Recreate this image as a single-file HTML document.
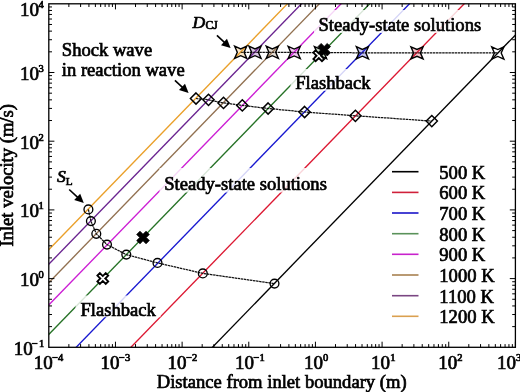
<!DOCTYPE html><html><head><meta charset="utf-8"><style>html,body{margin:0;padding:0;background:#fff;}svg{display:block;}text{font-family:"Liberation Serif", "Times New Roman", serif;fill:#000;stroke:#000;stroke-width:0.70px;}</style></head><body>
<svg width="520" height="392" viewBox="0 0 520 392">
<rect width="520" height="392" fill="#fff"/>
<defs><clipPath id="ax"><rect x="48.80" y="3.80" width="466.60" height="343.50"/></clipPath></defs>
<g clip-path="url(#ax)" fill="none" stroke-width="1.35">
<line x1="40.00" y1="524.98" x2="530.00" y2="19.98" stroke="#000000"/>
<line x1="40.00" y1="440.98" x2="530.00" y2="-64.02" stroke="#dc1832"/>
<line x1="40.00" y1="384.58" x2="530.00" y2="-120.42" stroke="#1818d0"/>
<line x1="40.00" y1="343.58" x2="530.00" y2="-161.42" stroke="#267226"/>
<line x1="40.00" y1="314.08" x2="530.00" y2="-190.92" stroke="#cc1ed4"/>
<line x1="40.00" y1="291.68" x2="530.00" y2="-213.32" stroke="#917050"/>
<line x1="40.00" y1="273.28" x2="530.00" y2="-231.72" stroke="#6a2490"/>
<line x1="40.00" y1="258.78" x2="530.00" y2="-246.22" stroke="#eaa02a"/>
</g>
<rect x="314.0" y="10.0" width="173.0" height="23.0" fill="#fff" fill-opacity="0.82"/>
<rect x="159.5" y="168.0" width="173.0" height="24.5" fill="#fff" fill-opacity="0.82"/>
<rect x="290.5" y="69.0" width="85.0" height="21.8" fill="#fff" fill-opacity="0.82"/>
<rect x="75.5" y="295.5" width="85.0" height="21.7" fill="#fff" fill-opacity="0.82"/>
<polyline points="88.4,209.4 90.9,221.1 96.3,233.8 107.0,244.6 126.3,254.6 157.5,262.9 202.8,273.4 274.5,283.6" fill="none" stroke="#111" stroke-width="1.25" stroke-dasharray="2.5 0.6"/>
<polyline points="196.0,98.5 208.5,99.8 223.5,102.9 242.3,105.4 268.1,108.5 304.6,112.0 355.4,115.8 431.8,121.1" fill="none" stroke="#111" stroke-width="1.25" stroke-dasharray="2.5 0.6"/>
<polyline points="240.7,52.3 255.0,52.3 272.3,52.3 294.2,52.5 320.5,52.6 362.4,52.8 417.0,52.9 497.8,53.0" fill="none" stroke="#111" stroke-width="1.25" stroke-dasharray="2.5 0.6"/>
<circle cx="88.4" cy="209.4" r="4.4" fill="none" stroke="#000" stroke-width="1.35"/>
<circle cx="90.9" cy="221.1" r="4.4" fill="none" stroke="#000" stroke-width="1.35"/>
<circle cx="96.3" cy="233.8" r="4.4" fill="none" stroke="#000" stroke-width="1.35"/>
<circle cx="107.0" cy="244.6" r="4.4" fill="none" stroke="#000" stroke-width="1.35"/>
<circle cx="126.3" cy="254.6" r="4.4" fill="none" stroke="#000" stroke-width="1.35"/>
<circle cx="157.5" cy="262.9" r="4.4" fill="none" stroke="#000" stroke-width="1.35"/>
<circle cx="202.8" cy="273.4" r="4.4" fill="none" stroke="#000" stroke-width="1.35"/>
<circle cx="274.5" cy="283.6" r="4.4" fill="none" stroke="#000" stroke-width="1.35"/>
<path d="M196.0,92.9 l5.6,5.6 l-5.6,5.6 l-5.6,-5.6 Z" fill="none" stroke="#000" stroke-width="1.45"/>
<path d="M208.5,94.2 l5.6,5.6 l-5.6,5.6 l-5.6,-5.6 Z" fill="none" stroke="#000" stroke-width="1.45"/>
<path d="M223.5,97.3 l5.6,5.6 l-5.6,5.6 l-5.6,-5.6 Z" fill="none" stroke="#000" stroke-width="1.45"/>
<path d="M242.3,99.8 l5.6,5.6 l-5.6,5.6 l-5.6,-5.6 Z" fill="none" stroke="#000" stroke-width="1.45"/>
<path d="M268.1,102.9 l5.6,5.6 l-5.6,5.6 l-5.6,-5.6 Z" fill="none" stroke="#000" stroke-width="1.45"/>
<path d="M304.6,106.4 l5.6,5.6 l-5.6,5.6 l-5.6,-5.6 Z" fill="none" stroke="#000" stroke-width="1.45"/>
<path d="M355.4,110.2 l5.6,5.6 l-5.6,5.6 l-5.6,-5.6 Z" fill="none" stroke="#000" stroke-width="1.45"/>
<path d="M431.8,115.5 l5.6,5.6 l-5.6,5.6 l-5.6,-5.6 Z" fill="none" stroke="#000" stroke-width="1.45"/>
<path d="M234.62,46.22 L240.70,48.90 L246.78,46.22 L244.10,52.30 L246.78,58.38 L240.70,55.70 L234.62,58.38 L237.30,52.30 Z" fill="#eaa02a" fill-opacity="0.25" stroke="#000" stroke-width="1.4" stroke-linejoin="miter" stroke-miterlimit="10"/>
<path d="M248.92,46.22 L255.00,48.90 L261.08,46.22 L258.40,52.30 L261.08,58.38 L255.00,55.70 L248.92,58.38 L251.60,52.30 Z" fill="#6a2490" fill-opacity="0.25" stroke="#000" stroke-width="1.4" stroke-linejoin="miter" stroke-miterlimit="10"/>
<path d="M266.22,46.22 L272.30,48.90 L278.38,46.22 L275.70,52.30 L278.38,58.38 L272.30,55.70 L266.22,58.38 L268.90,52.30 Z" fill="#917050" fill-opacity="0.25" stroke="#000" stroke-width="1.4" stroke-linejoin="miter" stroke-miterlimit="10"/>
<path d="M288.12,46.42 L294.20,49.10 L300.28,46.42 L297.60,52.50 L300.28,58.58 L294.20,55.90 L288.12,58.58 L290.80,52.50 Z" fill="#cc1ed4" fill-opacity="0.25" stroke="#000" stroke-width="1.4" stroke-linejoin="miter" stroke-miterlimit="10"/>
<path d="M314.42,46.52 L320.50,49.20 L326.58,46.52 L323.90,52.60 L326.58,58.68 L320.50,56.00 L314.42,58.68 L317.10,52.60 Z" fill="#267226" fill-opacity="0.25" stroke="#000" stroke-width="1.4" stroke-linejoin="miter" stroke-miterlimit="10"/>
<path d="M356.32,46.72 L362.40,49.40 L368.48,46.72 L365.80,52.80 L368.48,58.88 L362.40,56.20 L356.32,58.88 L359.00,52.80 Z" fill="#1818d0" fill-opacity="0.25" stroke="#000" stroke-width="1.4" stroke-linejoin="miter" stroke-miterlimit="10"/>
<path d="M410.92,46.82 L417.00,49.50 L423.08,46.82 L420.40,52.90 L423.08,58.98 L417.00,56.30 L410.92,58.98 L413.60,52.90 Z" fill="#dc1832" fill-opacity="0.25" stroke="#000" stroke-width="1.4" stroke-linejoin="miter" stroke-miterlimit="10"/>
<path d="M491.72,46.92 L497.80,49.60 L503.88,46.92 L501.20,53.00 L503.88,59.08 L497.80,56.40 L491.72,59.08 L494.40,53.00 Z" fill="#000000" fill-opacity="0" stroke="#000" stroke-width="1.4" stroke-linejoin="miter" stroke-miterlimit="10"/>
<path d="M146.04,231.21 L149.29,234.46 L146.25,237.50 L149.29,240.54 L146.04,243.79 L143.00,240.75 L139.96,243.79 L136.71,240.54 L139.75,237.50 L136.71,234.46 L139.96,231.21 L143.00,234.25 Z" fill="#000" stroke="#000" stroke-width="0.8" stroke-linejoin="round"/>
<path d="M105.73,273.09 L108.21,275.57 L105.27,278.50 L108.21,281.43 L105.73,283.91 L102.80,280.97 L99.87,283.91 L97.39,281.43 L100.33,278.50 L97.39,275.57 L99.87,273.09 L102.80,276.03 Z" fill="#fff" stroke="#000" stroke-width="1.85"/>
<path d="M321.98,50.36 L324.24,52.62 L321.06,55.80 L324.24,58.98 L321.98,61.24 L318.80,58.06 L315.62,61.24 L313.36,58.98 L316.54,55.80 L313.36,52.62 L315.62,50.36 L318.80,53.54 Z" fill="#fff" stroke="#000" stroke-width="1.85"/>
<path d="M327.24,43.41 L330.49,46.66 L327.45,49.70 L330.49,52.74 L327.24,55.99 L324.20,52.95 L321.16,55.99 L317.91,52.74 L320.95,49.70 L317.91,46.66 L321.16,43.41 L324.20,46.45 Z" fill="#000" stroke="#000" stroke-width="0.8" stroke-linejoin="round"/>
<g stroke="#000" stroke-width="1" fill="none">
<rect x="48.80" y="3.80" width="466.60" height="343.50" stroke-width="1.3"/>
<path d="M68.87,347.30v-3.2 M68.87,3.80v3.2 M80.60,347.30v-3.2 M80.60,3.80v3.2 M88.93,347.30v-3.2 M88.93,3.80v3.2 M95.39,347.30v-3.2 M95.39,3.80v3.2 M100.67,347.30v-3.2 M100.67,3.80v3.2 M105.13,347.30v-3.2 M105.13,3.80v3.2 M109.00,347.30v-3.2 M109.00,3.80v3.2 M112.41,347.30v-3.2 M112.41,3.80v3.2 M115.46,347.30v-5.6 M115.46,3.80v5.6 M135.52,347.30v-3.2 M135.52,3.80v3.2 M147.26,347.30v-3.2 M147.26,3.80v3.2 M155.59,347.30v-3.2 M155.59,3.80v3.2 M162.05,347.30v-3.2 M162.05,3.80v3.2 M167.33,347.30v-3.2 M167.33,3.80v3.2 M171.79,347.30v-3.2 M171.79,3.80v3.2 M175.65,347.30v-3.2 M175.65,3.80v3.2 M179.06,347.30v-3.2 M179.06,3.80v3.2 M182.11,347.30v-5.6 M182.11,3.80v5.6 M202.18,347.30v-3.2 M202.18,3.80v3.2 M213.92,347.30v-3.2 M213.92,3.80v3.2 M222.25,347.30v-3.2 M222.25,3.80v3.2 M228.71,347.30v-3.2 M228.71,3.80v3.2 M233.98,347.30v-3.2 M233.98,3.80v3.2 M238.45,347.30v-3.2 M238.45,3.80v3.2 M242.31,347.30v-3.2 M242.31,3.80v3.2 M245.72,347.30v-3.2 M245.72,3.80v3.2 M248.77,347.30v-5.6 M248.77,3.80v5.6 M268.84,347.30v-3.2 M268.84,3.80v3.2 M280.57,347.30v-3.2 M280.57,3.80v3.2 M288.90,347.30v-3.2 M288.90,3.80v3.2 M295.36,347.30v-3.2 M295.36,3.80v3.2 M300.64,347.30v-3.2 M300.64,3.80v3.2 M305.10,347.30v-3.2 M305.10,3.80v3.2 M308.97,347.30v-3.2 M308.97,3.80v3.2 M312.38,347.30v-3.2 M312.38,3.80v3.2 M315.43,347.30v-5.6 M315.43,3.80v5.6 M335.49,347.30v-3.2 M335.49,3.80v3.2 M347.23,347.30v-3.2 M347.23,3.80v3.2 M355.56,347.30v-3.2 M355.56,3.80v3.2 M362.02,347.30v-3.2 M362.02,3.80v3.2 M367.30,347.30v-3.2 M367.30,3.80v3.2 M371.76,347.30v-3.2 M371.76,3.80v3.2 M375.63,347.30v-3.2 M375.63,3.80v3.2 M379.04,347.30v-3.2 M379.04,3.80v3.2 M382.09,347.30v-5.6 M382.09,3.80v5.6 M402.15,347.30v-3.2 M402.15,3.80v3.2 M413.89,347.30v-3.2 M413.89,3.80v3.2 M422.22,347.30v-3.2 M422.22,3.80v3.2 M428.68,347.30v-3.2 M428.68,3.80v3.2 M433.96,347.30v-3.2 M433.96,3.80v3.2 M438.42,347.30v-3.2 M438.42,3.80v3.2 M442.28,347.30v-3.2 M442.28,3.80v3.2 M445.69,347.30v-3.2 M445.69,3.80v3.2 M448.74,347.30v-5.6 M448.74,3.80v5.6 M468.81,347.30v-3.2 M468.81,3.80v3.2 M480.55,347.30v-3.2 M480.55,3.80v3.2 M488.87,347.30v-3.2 M488.87,3.80v3.2 M495.33,347.30v-3.2 M495.33,3.80v3.2 M500.61,347.30v-3.2 M500.61,3.80v3.2 M505.07,347.30v-3.2 M505.07,3.80v3.2 M508.94,347.30v-3.2 M508.94,3.80v3.2 M512.35,347.30v-3.2 M512.35,3.80v3.2 M515.40,347.30v-5.6 M515.40,3.80v5.6 M535.47,347.30v-3.2 M535.47,3.80v3.2 M547.20,347.30v-3.2 M547.20,3.80v3.2 M555.53,347.30v-3.2 M555.53,3.80v3.2 M561.99,347.30v-3.2 M561.99,3.80v3.2 M567.27,347.30v-3.2 M567.27,3.80v3.2 M571.73,347.30v-3.2 M571.73,3.80v3.2 M575.60,347.30v-3.2 M575.60,3.80v3.2 M579.01,347.30v-3.2 M579.01,3.80v3.2 M48.80,326.62h3.2 M515.40,326.62h-3.2 M48.80,314.52h3.2 M515.40,314.52h-3.2 M48.80,305.94h3.2 M515.40,305.94h-3.2 M48.80,299.28h3.2 M515.40,299.28h-3.2 M48.80,293.84h3.2 M515.40,293.84h-3.2 M48.80,289.24h3.2 M515.40,289.24h-3.2 M48.80,285.26h3.2 M515.40,285.26h-3.2 M48.80,281.74h3.2 M515.40,281.74h-3.2 M48.80,278.60h5.6 M515.40,278.60h-5.6 M48.80,257.92h3.2 M515.40,257.92h-3.2 M48.80,245.82h3.2 M515.40,245.82h-3.2 M48.80,237.24h3.2 M515.40,237.24h-3.2 M48.80,230.58h3.2 M515.40,230.58h-3.2 M48.80,225.14h3.2 M515.40,225.14h-3.2 M48.80,220.54h3.2 M515.40,220.54h-3.2 M48.80,216.56h3.2 M515.40,216.56h-3.2 M48.80,213.04h3.2 M515.40,213.04h-3.2 M48.80,209.90h5.6 M515.40,209.90h-5.6 M48.80,189.22h3.2 M515.40,189.22h-3.2 M48.80,177.12h3.2 M515.40,177.12h-3.2 M48.80,168.54h3.2 M515.40,168.54h-3.2 M48.80,161.88h3.2 M515.40,161.88h-3.2 M48.80,156.44h3.2 M515.40,156.44h-3.2 M48.80,151.84h3.2 M515.40,151.84h-3.2 M48.80,147.86h3.2 M515.40,147.86h-3.2 M48.80,144.34h3.2 M515.40,144.34h-3.2 M48.80,141.20h5.6 M515.40,141.20h-5.6 M48.80,120.52h3.2 M515.40,120.52h-3.2 M48.80,108.42h3.2 M515.40,108.42h-3.2 M48.80,99.84h3.2 M515.40,99.84h-3.2 M48.80,93.18h3.2 M515.40,93.18h-3.2 M48.80,87.74h3.2 M515.40,87.74h-3.2 M48.80,83.14h3.2 M515.40,83.14h-3.2 M48.80,79.16h3.2 M515.40,79.16h-3.2 M48.80,75.64h3.2 M515.40,75.64h-3.2 M48.80,72.50h5.6 M515.40,72.50h-5.6 M48.80,51.82h3.2 M515.40,51.82h-3.2 M48.80,39.72h3.2 M515.40,39.72h-3.2 M48.80,31.14h3.2 M515.40,31.14h-3.2 M48.80,24.48h3.2 M515.40,24.48h-3.2 M48.80,19.04h3.2 M515.40,19.04h-3.2 M48.80,14.44h3.2 M515.40,14.44h-3.2 M48.80,10.46h3.2 M515.40,10.46h-3.2 M48.80,6.94h3.2 M515.40,6.94h-3.2"/>
</g>
<text x="13.8" y="354.6" font-size="19.0">10</text>
<text x="31.9" y="346.6" font-size="10.5">&#8722;</text>
<text x="39.1" y="346.6" font-size="10.5">1</text>
<text x="20.0" y="285.9" font-size="19.0">10</text>
<text x="38.6" y="277.9" font-size="10.5">0</text>
<text x="20.0" y="217.2" font-size="19.0">10</text>
<text x="38.6" y="209.2" font-size="10.5">1</text>
<text x="20.0" y="148.5" font-size="19.0">10</text>
<text x="38.6" y="140.5" font-size="10.5">2</text>
<text x="20.0" y="79.8" font-size="19.0">10</text>
<text x="38.6" y="71.8" font-size="10.5">3</text>
<text x="20.0" y="16.0" font-size="19.0">10</text>
<text x="38.6" y="8.0" font-size="10.5">4</text>
<text x="33.7" y="369.2" font-size="19.0">10</text>
<text x="52.3" y="361.2" font-size="10.5">&#8722;</text>
<text x="58.1" y="361.2" font-size="10.5">4</text>
<text x="100.5" y="369.2" font-size="19.0">10</text>
<text x="119.1" y="361.2" font-size="10.5">&#8722;</text>
<text x="124.9" y="361.2" font-size="10.5">3</text>
<text x="167.6" y="369.2" font-size="19.0">10</text>
<text x="186.2" y="361.2" font-size="10.5">&#8722;</text>
<text x="192.0" y="361.2" font-size="10.5">2</text>
<text x="235.0" y="369.2" font-size="19.0">10</text>
<text x="253.6" y="361.2" font-size="10.5">&#8722;</text>
<text x="259.4" y="361.2" font-size="10.5">1</text>
<text x="303.9" y="369.2" font-size="19.0">10</text>
<text x="323.0" y="361.2" font-size="10.5">0</text>
<text x="371.1" y="369.2" font-size="19.0">10</text>
<text x="390.2" y="361.2" font-size="10.5">1</text>
<text x="438.2" y="369.2" font-size="19.0">10</text>
<text x="457.3" y="361.2" font-size="10.5">2</text>
<text x="496.9" y="369.2" font-size="19.0">10</text>
<text x="516.0" y="361.2" font-size="10.5">3</text>
<text x="281.7" y="388.4" font-size="18.6" text-anchor="middle">Distance from inlet boundary (m)</text>
<text transform="translate(13.4,175.3) rotate(-90)" font-size="18.6" text-anchor="middle">Inlet velocity (m/s)</text>
<text x="318.5" y="30.8" font-size="18.6">Steady-state solutions</text>
<text x="164.2" y="189.8" font-size="18.6">Steady-state solutions</text>
<text x="295.2" y="89.4" font-size="18.6">Flashback</text>
<text x="80.5" y="315.6" font-size="18.6">Flashback</text>
<text x="61.8" y="55.7" font-size="18.6">Shock wave</text>
<text x="61.8" y="75.5" font-size="18.6">in reaction wave</text>
<text x="192.6" y="28.2" font-size="17.6" font-style="italic">D</text>
<text x="205.5" y="29.4" font-size="11.6">CJ</text>
<text x="57.0" y="182.3" font-size="17.6" font-style="italic">S</text>
<text x="65.8" y="185.4" font-size="11.2">L</text>
<line x1="174.90" y1="80.30" x2="182.73" y2="87.56" stroke="#000" stroke-width="1.6"/>
<path d="M188.60,93.00 L179.01,90.11 L184.99,83.65 Z" fill="#000"/>
<line x1="216.90" y1="35.40" x2="224.71" y2="42.58" stroke="#000" stroke-width="1.6"/>
<path d="M230.60,48.00 L221.00,45.15 L226.95,38.67 Z" fill="#000"/>
<line x1="69.20" y1="189.50" x2="77.93" y2="197.57" stroke="#000" stroke-width="1.6"/>
<path d="M83.80,203.00 L74.20,200.12 L80.18,193.66 Z" fill="#000"/>
<line x1="392" y1="171.7" x2="418.5" y2="171.7" stroke="#000000" stroke-width="1.6"/>
<text x="439.3" y="178.6" font-size="18.6">500 K</text>
<line x1="392" y1="192.4" x2="418.5" y2="192.4" stroke="#d0203a" stroke-width="1.6"/>
<text x="439.3" y="199.3" font-size="18.6">600 K</text>
<line x1="392" y1="213.0" x2="418.5" y2="213.0" stroke="#1a14c8" stroke-width="1.6"/>
<text x="439.3" y="219.9" font-size="18.6">700 K</text>
<line x1="392" y1="233.7" x2="418.5" y2="233.7" stroke="#5a925a" stroke-width="1.6"/>
<text x="439.3" y="240.6" font-size="18.6">800 K</text>
<line x1="392" y1="254.3" x2="418.5" y2="254.3" stroke="#c822cc" stroke-width="1.6"/>
<text x="439.3" y="261.2" font-size="18.6">900 K</text>
<line x1="392" y1="275.0" x2="418.5" y2="275.0" stroke="#a88050" stroke-width="1.6"/>
<text x="439.3" y="281.9" font-size="18.6">1000 K</text>
<line x1="392" y1="295.7" x2="418.5" y2="295.7" stroke="#7a4682" stroke-width="1.6"/>
<text x="439.3" y="302.6" font-size="18.6">1100 K</text>
<line x1="392" y1="316.3" x2="418.5" y2="316.3" stroke="#daa050" stroke-width="1.6"/>
<text x="439.3" y="323.2" font-size="18.6">1200 K</text>
</svg></body></html>
